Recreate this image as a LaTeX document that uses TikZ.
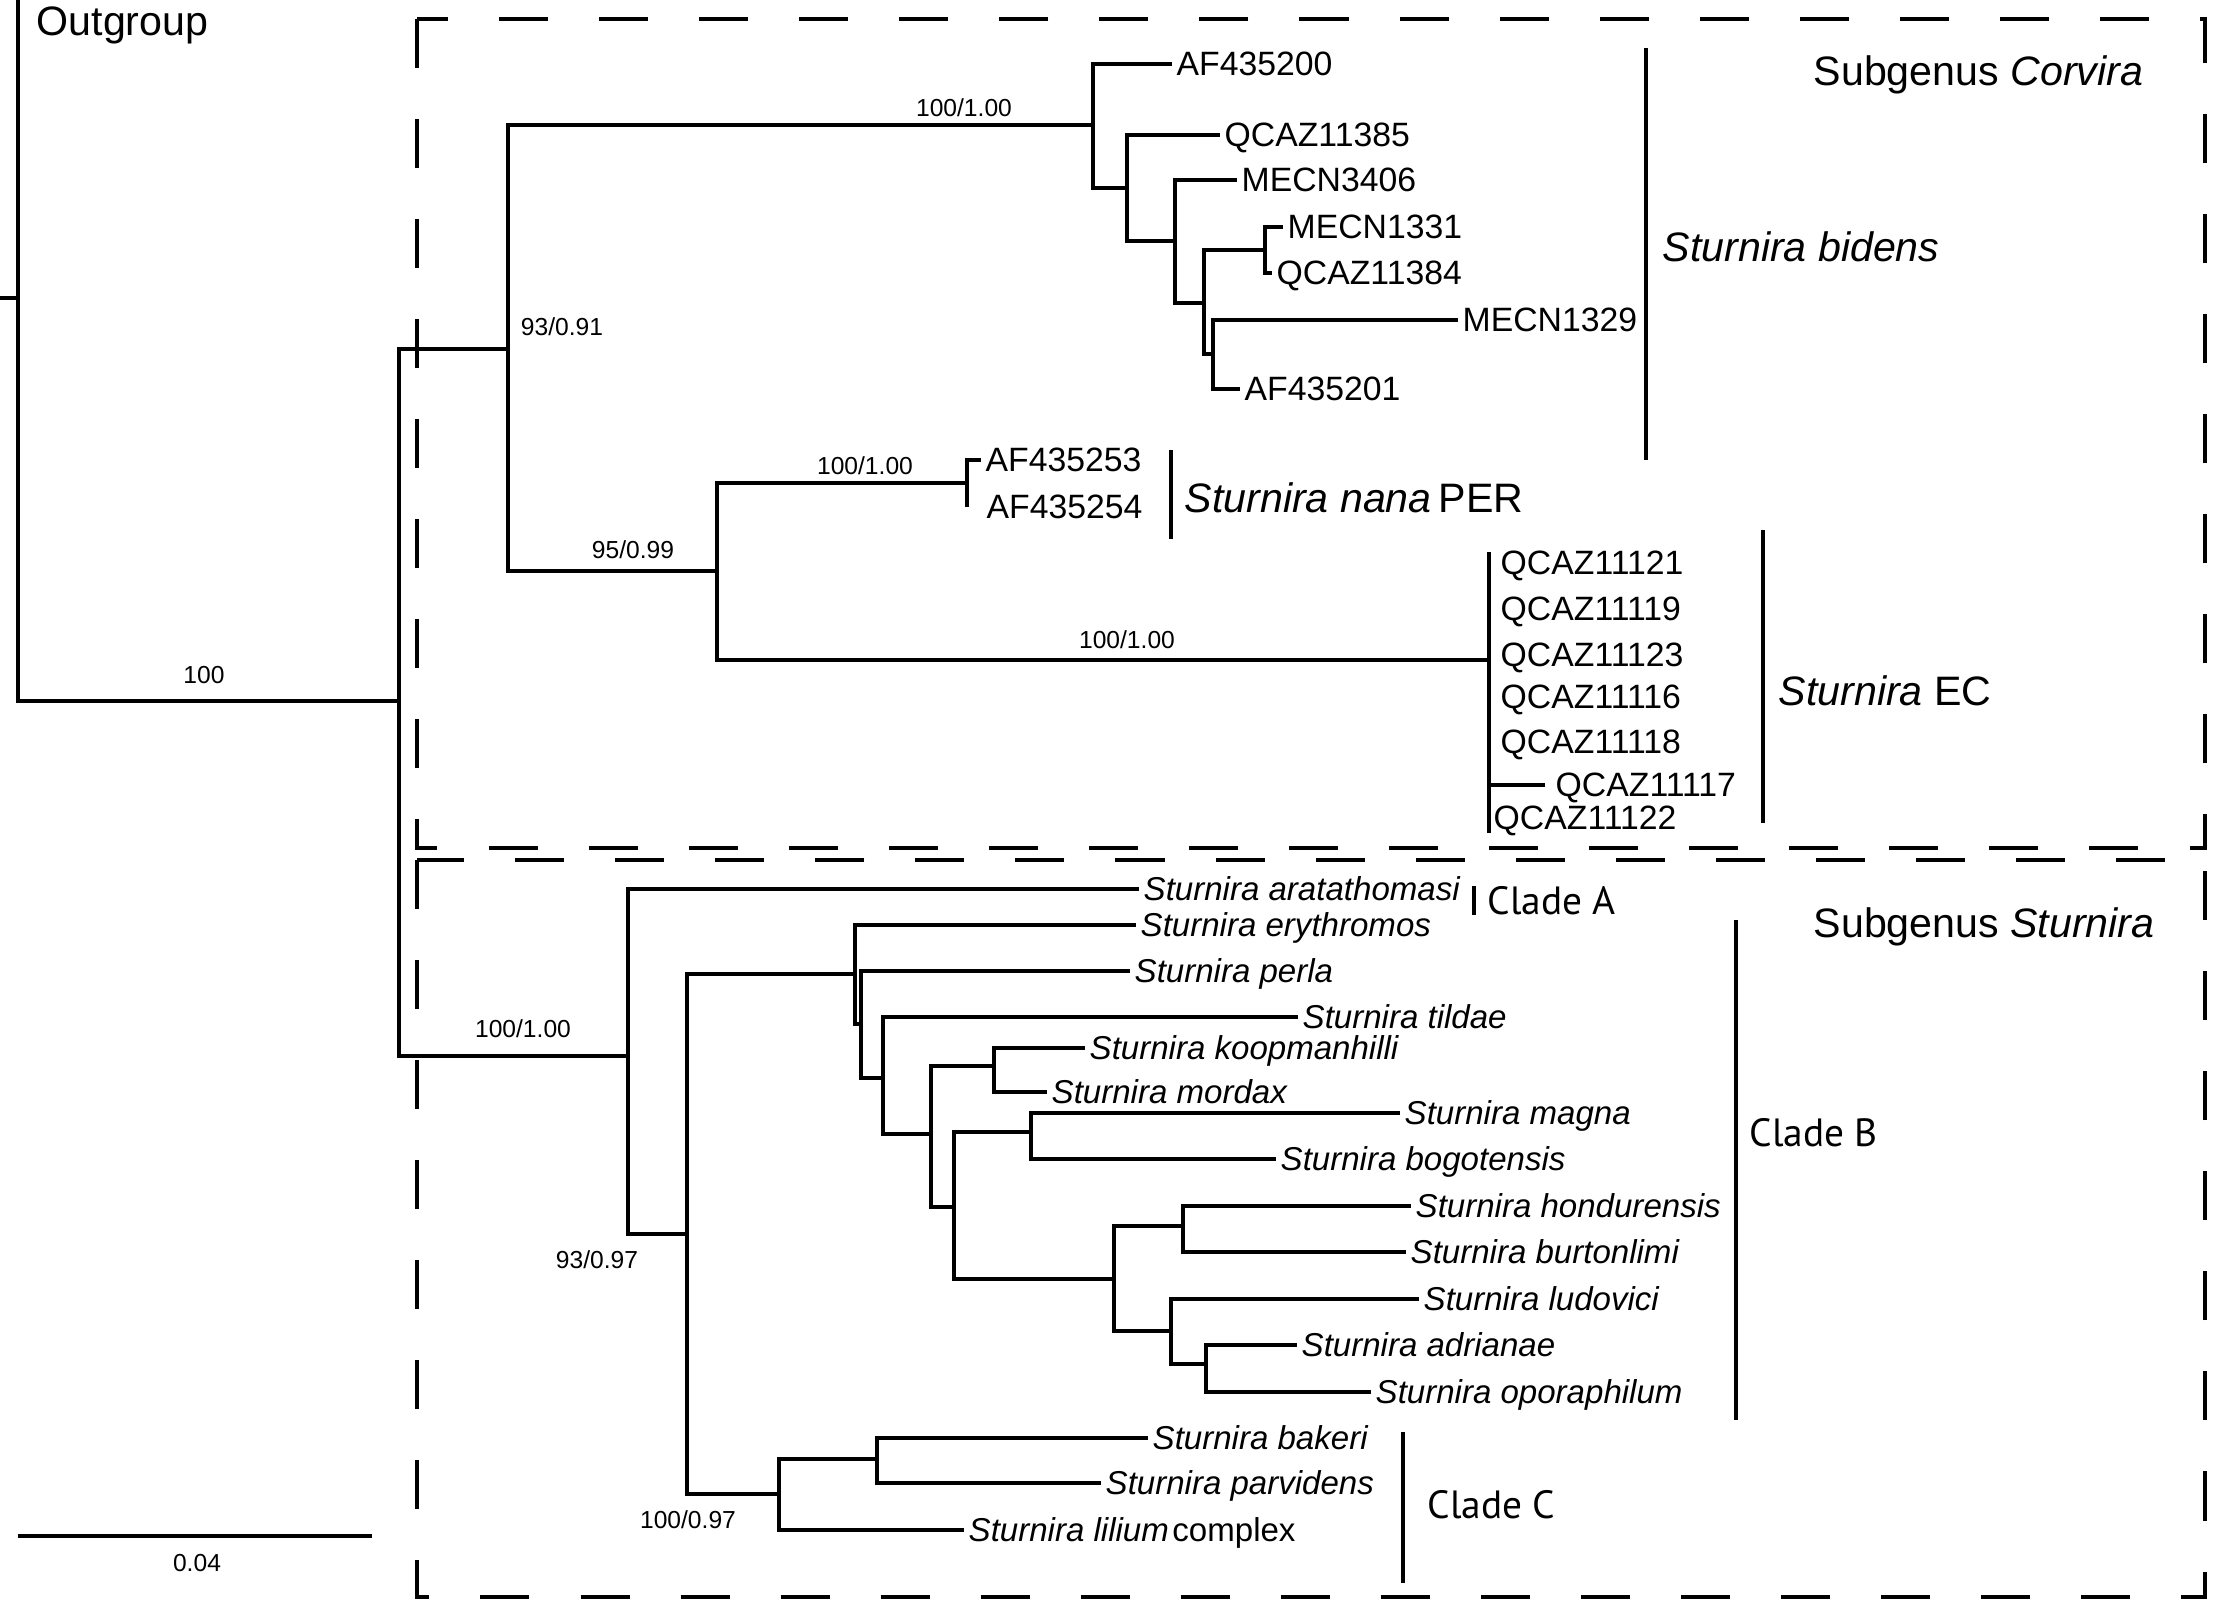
\documentclass[tikz,border=0pt]{standalone}
\usepackage{fontspec}
\setmainfont{Liberation Sans}
\newfontfamily\cladefont{PT Sans}
\usetikzlibrary{positioning}

\begin{document}
\begin{tikzpicture}[
  x=0.01cm, y=-0.01cm,
  branch/.style={line width=1pt},
  bar/.style={line width=1.1pt},
  subbox/.style={line width=1.2pt, dash pattern=on 0.49cm off 0.51cm},
  tip/.style={
    anchor=west,
    inner xsep=0.04cm,
    inner ysep=0pt,
    text height=6.8pt,
    text depth=0pt,
    font=\fontsize{9.6pt}{11pt}\selectfont
  },
  sp/.style={tip, font=\fontsize{9.4pt}{11pt}\selectfont\itshape},
  supp/.style={inner sep=0pt, font=\fontsize{7pt}{8pt}\selectfont},
  big/.style={
    anchor=west,
    inner sep=0pt,
    text height=8.4pt,
    text depth=0pt,
    font=\fontsize{11.7pt}{14pt}\selectfont
  },
  clade/.style={
    anchor=west,
    inner sep=0pt,
    text height=7.9pt,
    text depth=0pt,
    font=\cladefont\fontsize{11.2pt}{13pt}\selectfont
  }
]
\useasboundingbox (0,0) rectangle (2226,1600);

% -------- Subgenus boxes --------
\draw[subbox] (417,19) rectangle (2205,848);
\draw[subbox] (417,860) rectangle (2205,1597);
\node[big] (corvira) at (1813,71) {Subgenus \textit{Corvira}};
\node[big] (sturnira) at (1813,923) {Subgenus \textit{Sturnira}};

% -------- Root and outgroup --------
\coordinate (rootL) at (0,298);
\coordinate (root) at (18,298);
\coordinate (outtop) at (18,0);
\coordinate (ing) at (399,701);
\node[big] (outgroup) at (36,21) {Outgroup};
\draw[branch] (rootL) -- (root) -- (outtop);
\draw[branch] (root) |- (ing);
\node[supp] (s100) at (204,675) {100};

% -------- Subgenus Corvira --------
\coordinate (corv) at (508,349);
\coordinate (bid) at (1093,125);
\coordinate (b2) at (1127,188);
\coordinate (b3) at (1175,241);
\coordinate (b4) at (1204,303);
\coordinate (b5) at (1265,250);
\coordinate (b6) at (1213,354);
\coordinate (nanaec) at (717,571);
\coordinate (nana) at (967,483);
\coordinate (ec) at (1489,660);
\coordinate (ectop) at (1489,552);
\coordinate (ecbot) at (1489,833);

\node[tip] (AF435200) at (1172,64) {AF435200};
\node[tip] (QCAZ11385) at (1220,135) {QCAZ11385};
\node[tip] (MECN3406) at (1237,180) {MECN3406};
\node[tip] (MECN1331) at (1283,227) {MECN1331};
\node[tip] (QCAZ11384) at (1272,273) {QCAZ11384};
\node[tip] (MECN1329) at (1458,320) {MECN1329};
\node[tip] (AF435201) at (1240,389) {AF435201};
\node[tip] (AF435253) at (981,460) {AF435253};
\node[tip, inner xsep=0.19cm] (AF435254) at (967,507) {AF435254};
\node[tip, inner xsep=0.11cm] (QCAZ11121) at (1489,563) {QCAZ11121};
\node[tip, inner xsep=0.11cm] (QCAZ11119) at (1489,609) {QCAZ11119};
\node[tip, inner xsep=0.11cm] (QCAZ11123) at (1489,655) {QCAZ11123};
\node[tip, inner xsep=0.11cm] (QCAZ11116) at (1489,697) {QCAZ11116};
\node[tip, inner xsep=0.11cm] (QCAZ11118) at (1489,742) {QCAZ11118};
\node[tip, inner xsep=0.1cm] (QCAZ11117) at (1545,785) {QCAZ11117};
\node[tip] (QCAZ11122) at (1489,818) {QCAZ11122};

\draw[branch] (ing) |- (corv);
\draw[branch] (corv) |- (bid);
\draw[branch] (corv) |- (nanaec);
\draw[branch] (bid) |- (AF435200);
\draw[branch] (bid) |- (b2);
\draw[branch] (b2) |- (QCAZ11385);
\draw[branch] (b2) |- (b3);
\draw[branch] (b3) |- (MECN3406);
\draw[branch] (b3) |- (b4);
\draw[branch] (b4) |- (b5);
\draw[branch] (b4) |- (b6);
\draw[branch] (b5) |- (MECN1331);
\draw[branch] (b5) |- (QCAZ11384);
\draw[branch] (b6) |- (MECN1329);
\draw[branch] (b6) |- (AF435201);
\draw[branch] (nanaec) |- (nana);
\draw[branch] (nanaec) |- (ec);
\draw[branch] (nana) |- (AF435253);
\draw[branch] (nana) |- (AF435254);
\draw[branch] (ectop) -- (ecbot);
\draw[branch] (ec) |- (QCAZ11117);

\node[supp] (s9391) at (562,327) {93/0.91};
\node[supp] (s100a) at (964,108) {100/1.00};
\node[supp] (s9599) at (633,550) {95/0.99};
\node[supp] (s100b) at (865,466) {100/1.00};
\node[supp] (s100c) at (1127,640) {100/1.00};

% -------- Corvira brackets --------
\coordinate (bidT) at (1646,48);
\coordinate (bidB) at (1646,460);
\coordinate (nanT) at (1171,450);
\coordinate (nanB) at (1171,539);
\coordinate (ecT) at (1763,530);
\coordinate (ecB) at (1763,823);
\draw[bar] (bidT) -- (bidB);
\draw[bar] (nanT) -- (nanB);
\draw[bar] (ecT) -- (ecB);
\node[big] (bidens) at (1662,247) {\textit{Sturnira bidens}};
\node[big] (nanaper) at (1184,498) {\textit{Sturnira nana}\hspace{2pt}PER};
\node[big] (sturEC) at (1778,691) {\textit{Sturnira} EC};

% -------- Subgenus Sturnira --------
\coordinate (stu) at (628,1056);
\coordinate (n2) at (687,1234);
\coordinate (n3) at (855,974);
\coordinate (n4) at (861,1024);
\coordinate (n5) at (883,1078);
\coordinate (n6) at (931,1134);
\coordinate (n7) at (994,1066);
\coordinate (n8) at (954,1207);
\coordinate (n9) at (1031,1132);
\coordinate (n10) at (1114,1279);
\coordinate (n11) at (1183,1226);
\coordinate (n12) at (1171,1331);
\coordinate (n13) at (1206,1364);
\coordinate (cc) at (779,1494);
\coordinate (n14) at (877,1459);

\node[sp] (arat) at (1139,889) {Sturnira aratathomasi};
\node[sp] (eryt) at (1136,925) {Sturnira erythromos};
\node[sp] (perl) at (1130,971) {Sturnira perla};
\node[sp] (tild) at (1298,1017) {Sturnira tildae};
\node[sp] (koop) at (1085,1048) {Sturnira koopmanhilli};
\node[sp] (mord) at (1047,1092) {Sturnira mordax};
\node[sp] (magn) at (1400,1113) {Sturnira magna};
\node[sp] (bogo) at (1276,1159) {Sturnira bogotensis};
\node[sp] (hond) at (1411,1206) {Sturnira hondurensis};
\node[sp] (burt) at (1406,1252) {Sturnira burtonlimi};
\node[sp] (ludo) at (1419,1299) {Sturnira ludovici};
\node[sp] (adri) at (1297,1345) {Sturnira adrianae};
\node[sp] (opor) at (1371,1392) {Sturnira oporaphilum};
\node[sp] (bake) at (1148,1438) {Sturnira bakeri};
\node[sp] (parv) at (1101,1483) {Sturnira parvidens};
\node[tip, font=\fontsize{9.4pt}{11pt}\selectfont] (lili) at (964,1530) {\textit{Sturnira lilium}\hspace{1pt}complex};

\draw[branch] (ing) |- (stu);
\draw[branch] (stu) |- (arat);
\draw[branch] (stu) |- (n2);
\draw[branch] (n2) |- (n3);
\draw[branch] (n2) |- (cc);
\draw[branch] (n3) |- (eryt);
\draw[branch] (n3) |- (n4);
\draw[branch] (n4) |- (perl);
\draw[branch] (n4) |- (n5);
\draw[branch] (n5) |- (tild);
\draw[branch] (n5) |- (n6);
\draw[branch] (n6) |- (n7);
\draw[branch] (n6) |- (n8);
\draw[branch] (n7) |- (koop);
\draw[branch] (n7) |- (mord);
\draw[branch] (n8) |- (n9);
\draw[branch] (n8) |- (n10);
\draw[branch] (n9) |- (magn);
\draw[branch] (n9) |- (bogo);
\draw[branch] (n10) |- (n11);
\draw[branch] (n10) |- (n12);
\draw[branch] (n11) |- (hond);
\draw[branch] (n11) |- (burt);
\draw[branch] (n12) |- (ludo);
\draw[branch] (n12) |- (n13);
\draw[branch] (n13) |- (adri);
\draw[branch] (n13) |- (opor);
\draw[branch] (cc) |- (n14);
\draw[branch] (cc) |- (lili);
\draw[branch] (n14) |- (bake);
\draw[branch] (n14) |- (parv);

\node[supp] (s100d) at (523,1029) {100/1.00};
\node[supp] (s9397) at (597,1260) {93/0.97};
\node[supp] (s10097) at (688,1520) {100/0.97};

% -------- Clade brackets --------
\coordinate (caT) at (1474,886);
\coordinate (caB) at (1474,915);
\coordinate (cbT) at (1736,920);
\coordinate (cbB) at (1736,1420);
\coordinate (ccT) at (1403,1432);
\coordinate (ccB) at (1403,1583);
\draw[bar] (caT) -- (caB);
\draw[bar] (cbT) -- (cbB);
\draw[bar] (ccT) -- (ccB);
\node[clade] (cladeA) at (1487,901) {Clade A};
\node[clade] (cladeB) at (1749,1133) {Clade B};
\node[clade] (cladeC) at (1427,1505) {Clade C};

% -------- Scale bar --------
\coordinate (scL) at (18,1536);
\coordinate (scR) at (372,1536);
\draw[branch] (scL) -- (scR);
\node[supp] (scale) at (197,1563) {0.04};

\end{tikzpicture}
\end{document}
